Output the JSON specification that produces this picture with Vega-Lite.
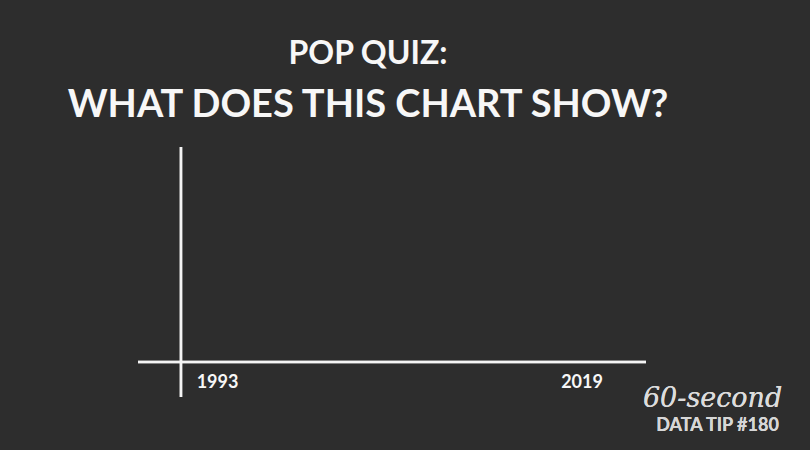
{
  "$schema": "https://vega.github.io/schema/vega-lite/v6.json",
  "width": 508,
  "height": 250,
  "autosize": {"type": "none"},
  "padding": {"left": 138, "top": 147, "right": 164, "bottom": 53},
  "background": "#2d2d2d",
  "title": {
    "text": "POP QUIZ:",
    "subtitle": "WHAT DOES THIS CHART SHOW?",
    "anchor": "middle",
    "dx": -24,
    "offset": 20,
    "font": "Lato",
    "fontSize": 32,
    "fontWeight": "bold",
    "color": "#f7f7f7",
    "subtitleFont": "Lato",
    "subtitleFontSize": 38,
    "subtitleFontWeight": "bold",
    "subtitleColor": "#f7f7f7",
    "subtitlePadding": 16
  },
  "data": {"values": [{"year": 1993}, {"year": 2019}]},
  "layer": [
    {
      "mark": {"type": "point", "opacity": 0},
      "encoding": {
        "x": {
          "field": "year",
          "type": "quantitative",
          "scale": {"domain": [1987.365, 2023.6], "nice": false, "zero": false},
          "axis": {
            "values": [1993, 2019],
            "format": "d",
            "title": null,
            "domain": false,
            "ticks": false,
            "grid": false,
            "offset": -35,
            "labelPadding": 11,
            "labelFont": "Lato",
            "labelFontSize": 18,
            "labelFontWeight": "bold",
            "labelColor": "#f7f7f7"
          }
        },
        "y": {
          "datum": 50,
          "type": "quantitative",
          "scale": {"domain": [0, 100], "nice": false},
          "axis": null
        }
      }
    },
    {
      "mark": {"type": "rule", "color": "#f4f4f4", "strokeWidth": 2.5},
      "encoding": {"x": {"datum": 1990.43, "type": "quantitative"}}
    },
    {
      "mark": {"type": "rule", "color": "#f4f4f4", "strokeWidth": 2.5},
      "encoding": {"y": {"datum": 14, "type": "quantitative"}}
    },
    {
      "mark": {
        "type": "text",
        "text": "60-second",
        "font": "DejaVu Serif",
        "fontStyle": "italic",
        "fontSize": 27,
        "color": "#dcdcdc",
        "align": "center",
        "baseline": "alphabetic",
        "clip": false
      },
      "encoding": {
        "x": {"datum": 2028.35, "type": "quantitative"},
        "y": {"datum": -4, "type": "quantitative"}
      }
    },
    {
      "mark": {
        "type": "text",
        "text": "DATA TIP #180",
        "font": "Lato",
        "fontWeight": "bold",
        "fontSize": 18,
        "color": "#d6d6d6",
        "align": "center",
        "baseline": "middle",
        "clip": false
      },
      "encoding": {
        "x": {"datum": 2028.7, "type": "quantitative"},
        "y": {"datum": -11.6, "type": "quantitative"}
      }
    }
  ],
  "config": {"view": {"stroke": null}}
}
